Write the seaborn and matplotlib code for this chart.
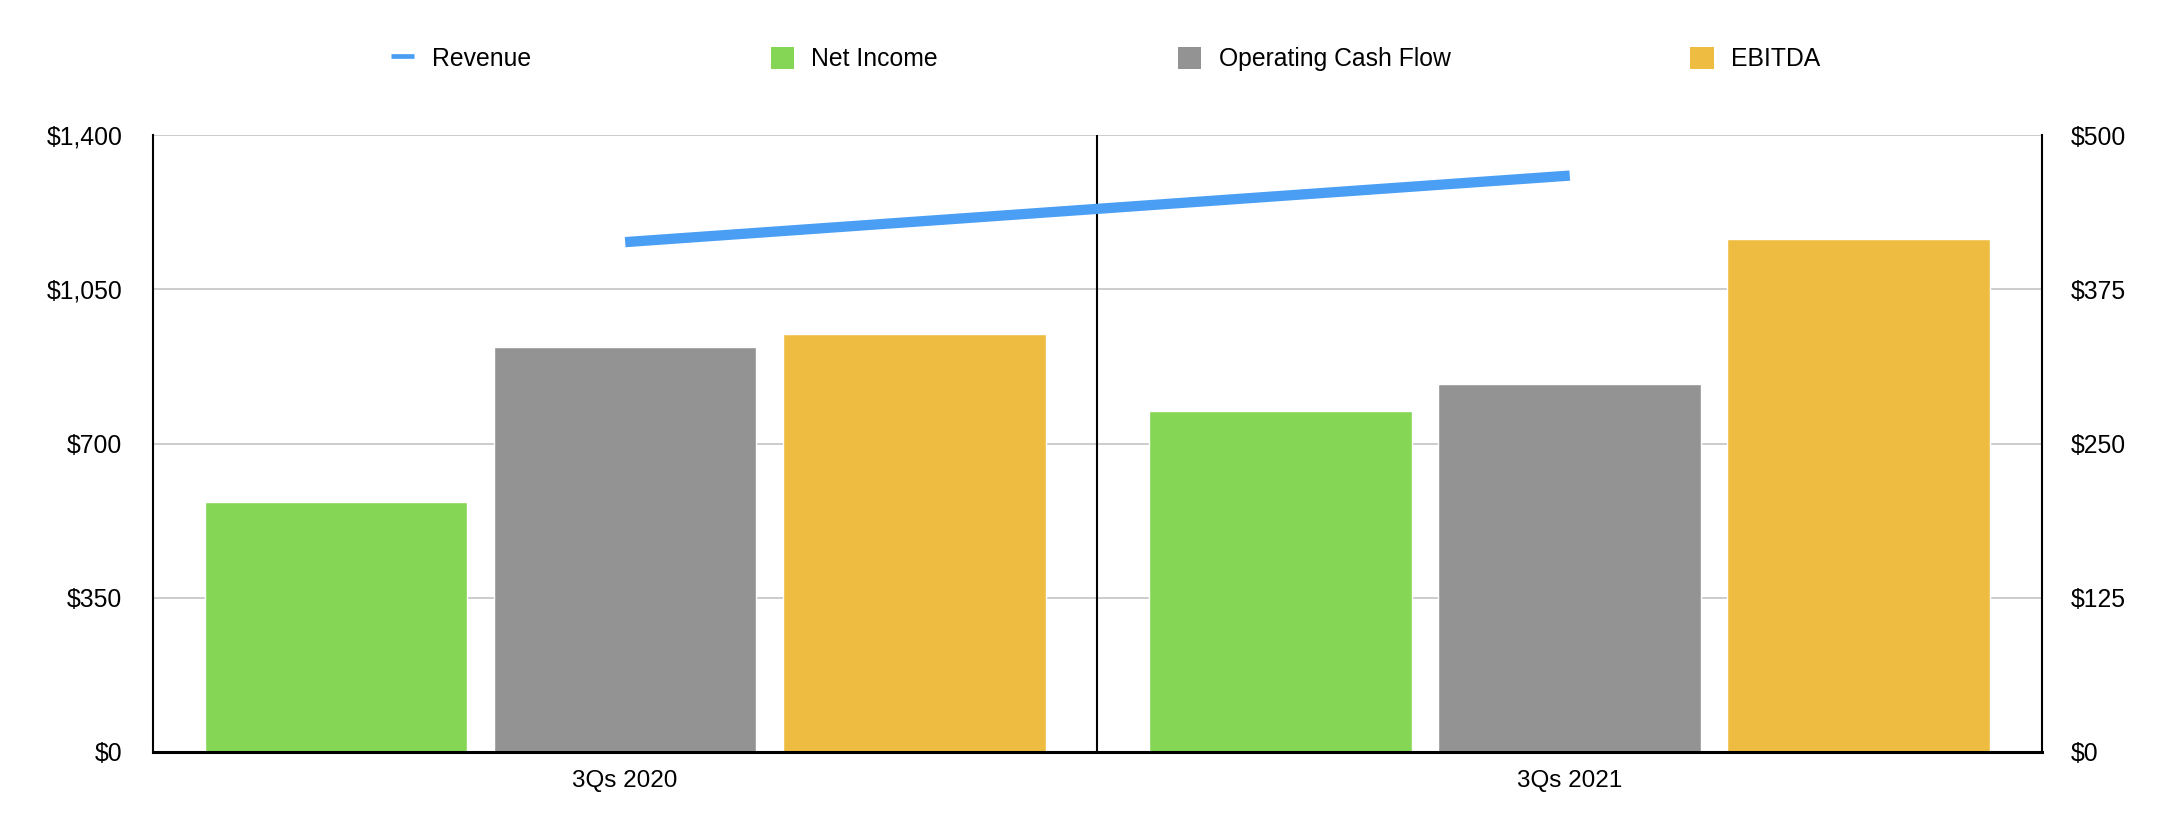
import pandas as pd
import numpy as np
import matplotlib.pyplot as plt
import seaborn as sns
from matplotlib.lines import Line2D
from matplotlib.patches import Patch
from matplotlib.ticker import FuncFormatter

# Data (USD millions)
periods = ['3Qs 2020', '3Qs 2021']
revenue = [1157, 1308]
net_income = [203, 276]
operating_cash_flow = [328, 298]
ebitda = [339, 416]

bar_metrics = ['Net Income', 'Operating Cash Flow', 'EBITDA']
bar_colors = ['#84d654', '#939393', '#eebc40']
line_color = '#4a9ff5'

df = pd.DataFrame({
    'Period': periods * 3,
    'Metric': [m for m in bar_metrics for _ in periods],
    'Value': net_income + operating_cash_flow + ebitda,
})

sns.set_style('white')
plt.rcParams['font.family'] = ['Liberation Sans', 'DejaVu Sans']
plt.rcParams['text.color'] = 'black'

fig = plt.figure(figsize=(21.84, 8.3), dpi=100)
ax = fig.add_axes([0.0700, 0.0940, 0.8650, 0.7433])

# Bars on the right-hand scale
sns.barplot(data=df, x='Period', y='Value', hue='Metric', hue_order=bar_metrics,
            palette=bar_colors, width=0.918, gap=0.0915, saturation=1,
            legend=False, ax=ax)
ax.set_ylim(0, 500)
ax.set_yticks([0, 125, 250, 375, 500])
ax.set_xlim(-0.5, 1.5)
ax.grid(axis='y', color='#c4c4c4', linewidth=1.2)
ax.grid(axis='x', visible=False)
ax.set_axisbelow(True)
ax.axvline(0.5, color='black', linewidth=1.5, zorder=1.5)
ax.set_xlabel('')
ax.set_ylabel('')

for side in ['left', 'right']:
    ax.spines[side].set_color('black')
    ax.spines[side].set_linewidth(1.5)
ax.spines['bottom'].set_color('black')
ax.spines['bottom'].set_linewidth(2.2)
ax.spines['top'].set_visible(False)

money = FuncFormatter(lambda v, p: '${:,.0f}'.format(v))

# Revenue line on the left-hand scale
ax2 = ax.twinx()
sns.lineplot(x=np.arange(len(periods)), y=revenue, color=line_color,
             linewidth=7.4, solid_capstyle='butt', ax=ax2)
ax2.set_ylim(0, 1400)
ax2.set_yticks([0, 350, 700, 1050, 1400])
ax2.yaxis.tick_left()
ax2.yaxis.set_major_formatter(money)
ax2.tick_params(axis='y', length=0, pad=22, labelsize=17.8, labelcolor='black')
ax2.set_xlim(-0.5, 1.5)
for s in ax2.spines.values():
    s.set_visible(False)
ax2.grid(False)

# twinx moves the first axis' ticks to the left, so put them back on the right
ax.yaxis.tick_right()
ax.yaxis.set_major_formatter(money)
ax.tick_params(axis='y', length=0, pad=21, labelsize=17.8, labelcolor='black')
ax.tick_params(axis='x', length=0, pad=13, labelsize=17.5, labelcolor='black')

# Legend
handles = [Line2D([0], [0], color=line_color, linewidth=3.4, solid_capstyle='butt')]
handles += [Patch(facecolor=c, edgecolor='none') for c in bar_colors]
labels = ['Revenue'] + bar_metrics
fig.legend(handles, labels, loc='center', bbox_to_anchor=(0.5062, 0.929), ncol=4,
           frameon=False, fontsize=17.8, handlelength=0.95, handleheight=1.0,
           handletextpad=0.7, columnspacing=9.7, labelcolor='black')

fig.savefig('out.png', dpi=100, facecolor='white')
